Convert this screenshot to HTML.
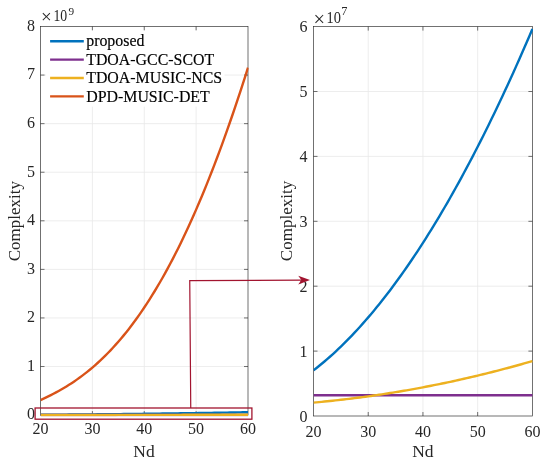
<!DOCTYPE html>
<html><head><meta charset="utf-8"><title>Complexity</title>
<style>html,body{margin:0;padding:0;background:#fff}svg{display:block}</style></head>
<body>
<svg width="550" height="467" viewBox="0 0 550 467" font-family="'Liberation Serif', serif" font-size="16" fill="#262626">
<rect width="550" height="467" fill="#fff"/>
<line x1="92.38" y1="26.5" x2="92.38" y2="415.1" stroke="#e9e9e9" stroke-width="0.8"/>
<line x1="144.25" y1="26.5" x2="144.25" y2="415.1" stroke="#e9e9e9" stroke-width="0.8"/>
<line x1="196.12" y1="26.5" x2="196.12" y2="415.1" stroke="#e9e9e9" stroke-width="0.8"/>
<line x1="40.5" y1="366.53" x2="248.0" y2="366.53" stroke="#e9e9e9" stroke-width="0.8"/>
<line x1="40.5" y1="317.95" x2="248.0" y2="317.95" stroke="#e9e9e9" stroke-width="0.8"/>
<line x1="40.5" y1="269.38" x2="248.0" y2="269.38" stroke="#e9e9e9" stroke-width="0.8"/>
<line x1="40.5" y1="220.80" x2="248.0" y2="220.80" stroke="#e9e9e9" stroke-width="0.8"/>
<line x1="40.5" y1="172.23" x2="248.0" y2="172.23" stroke="#e9e9e9" stroke-width="0.8"/>
<line x1="40.5" y1="123.65" x2="248.0" y2="123.65" stroke="#e9e9e9" stroke-width="0.8"/>
<line x1="40.5" y1="75.07" x2="248.0" y2="75.07" stroke="#e9e9e9" stroke-width="0.8"/>
<line x1="368.23" y1="26.6" x2="368.23" y2="416.0" stroke="#e9e9e9" stroke-width="0.8"/>
<line x1="422.95" y1="26.6" x2="422.95" y2="416.0" stroke="#e9e9e9" stroke-width="0.8"/>
<line x1="477.67" y1="26.6" x2="477.67" y2="416.0" stroke="#e9e9e9" stroke-width="0.8"/>
<line x1="313.5" y1="351.10" x2="532.4" y2="351.10" stroke="#e9e9e9" stroke-width="0.8"/>
<line x1="313.5" y1="286.20" x2="532.4" y2="286.20" stroke="#e9e9e9" stroke-width="0.8"/>
<line x1="313.5" y1="221.30" x2="532.4" y2="221.30" stroke="#e9e9e9" stroke-width="0.8"/>
<line x1="313.5" y1="156.40" x2="532.4" y2="156.40" stroke="#e9e9e9" stroke-width="0.8"/>
<line x1="313.5" y1="91.50" x2="532.4" y2="91.50" stroke="#e9e9e9" stroke-width="0.8"/>
<clipPath id="cl"><rect x="40.5" y="26.0" width="208.10" height="390.40"/></clipPath>
<clipPath id="cr"><rect x="313.5" y="26.1" width="219.50" height="391.20"/></clipPath>
<rect x="40.5" y="26.5" width="207.50" height="388.60" fill="none" stroke="#262626" stroke-width="0.65"/>
<line x1="92.38" y1="415.1" x2="92.38" y2="411.1" stroke="#262626" stroke-width="0.65"/>
<line x1="92.38" y1="26.5" x2="92.38" y2="30.5" stroke="#262626" stroke-width="0.65"/>
<line x1="144.25" y1="415.1" x2="144.25" y2="411.1" stroke="#262626" stroke-width="0.65"/>
<line x1="144.25" y1="26.5" x2="144.25" y2="30.5" stroke="#262626" stroke-width="0.65"/>
<line x1="196.12" y1="415.1" x2="196.12" y2="411.1" stroke="#262626" stroke-width="0.65"/>
<line x1="196.12" y1="26.5" x2="196.12" y2="30.5" stroke="#262626" stroke-width="0.65"/>
<line x1="40.5" y1="366.53" x2="44.5" y2="366.53" stroke="#262626" stroke-width="0.65"/>
<line x1="248.0" y1="366.53" x2="244.0" y2="366.53" stroke="#262626" stroke-width="0.65"/>
<line x1="40.5" y1="317.95" x2="44.5" y2="317.95" stroke="#262626" stroke-width="0.65"/>
<line x1="248.0" y1="317.95" x2="244.0" y2="317.95" stroke="#262626" stroke-width="0.65"/>
<line x1="40.5" y1="269.38" x2="44.5" y2="269.38" stroke="#262626" stroke-width="0.65"/>
<line x1="248.0" y1="269.38" x2="244.0" y2="269.38" stroke="#262626" stroke-width="0.65"/>
<line x1="40.5" y1="220.80" x2="44.5" y2="220.80" stroke="#262626" stroke-width="0.65"/>
<line x1="248.0" y1="220.80" x2="244.0" y2="220.80" stroke="#262626" stroke-width="0.65"/>
<line x1="40.5" y1="172.23" x2="44.5" y2="172.23" stroke="#262626" stroke-width="0.65"/>
<line x1="248.0" y1="172.23" x2="244.0" y2="172.23" stroke="#262626" stroke-width="0.65"/>
<line x1="40.5" y1="123.65" x2="44.5" y2="123.65" stroke="#262626" stroke-width="0.65"/>
<line x1="248.0" y1="123.65" x2="244.0" y2="123.65" stroke="#262626" stroke-width="0.65"/>
<line x1="40.5" y1="75.07" x2="44.5" y2="75.07" stroke="#262626" stroke-width="0.65"/>
<line x1="248.0" y1="75.07" x2="244.0" y2="75.07" stroke="#262626" stroke-width="0.65"/>
<rect x="313.5" y="26.6" width="218.90" height="389.40" fill="none" stroke="#262626" stroke-width="0.65"/>
<line x1="368.23" y1="416.0" x2="368.23" y2="412.0" stroke="#262626" stroke-width="0.65"/>
<line x1="368.23" y1="26.6" x2="368.23" y2="30.6" stroke="#262626" stroke-width="0.65"/>
<line x1="422.95" y1="416.0" x2="422.95" y2="412.0" stroke="#262626" stroke-width="0.65"/>
<line x1="422.95" y1="26.6" x2="422.95" y2="30.6" stroke="#262626" stroke-width="0.65"/>
<line x1="477.67" y1="416.0" x2="477.67" y2="412.0" stroke="#262626" stroke-width="0.65"/>
<line x1="477.67" y1="26.6" x2="477.67" y2="30.6" stroke="#262626" stroke-width="0.65"/>
<line x1="313.5" y1="351.10" x2="317.5" y2="351.10" stroke="#262626" stroke-width="0.65"/>
<line x1="532.4" y1="351.10" x2="528.4" y2="351.10" stroke="#262626" stroke-width="0.65"/>
<line x1="313.5" y1="286.20" x2="317.5" y2="286.20" stroke="#262626" stroke-width="0.65"/>
<line x1="532.4" y1="286.20" x2="528.4" y2="286.20" stroke="#262626" stroke-width="0.65"/>
<line x1="313.5" y1="221.30" x2="317.5" y2="221.30" stroke="#262626" stroke-width="0.65"/>
<line x1="532.4" y1="221.30" x2="528.4" y2="221.30" stroke="#262626" stroke-width="0.65"/>
<line x1="313.5" y1="156.40" x2="317.5" y2="156.40" stroke="#262626" stroke-width="0.65"/>
<line x1="532.4" y1="156.40" x2="528.4" y2="156.40" stroke="#262626" stroke-width="0.65"/>
<line x1="313.5" y1="91.50" x2="317.5" y2="91.50" stroke="#262626" stroke-width="0.65"/>
<line x1="532.4" y1="91.50" x2="528.4" y2="91.50" stroke="#262626" stroke-width="0.65"/>
<g fill="none" stroke-linejoin="round" stroke-width="2.4" clip-path="url(#cl)">
<path d="M40.50,414.76 L43.09,414.74 L45.69,414.73 L48.28,414.71 L50.88,414.69 L53.47,414.68 L56.06,414.66 L58.66,414.64 L61.25,414.62 L63.84,414.60 L66.44,414.58 L69.03,414.56 L71.62,414.54 L74.22,414.52 L76.81,414.50 L79.41,414.48 L82.00,414.46 L84.59,414.43 L87.19,414.41 L89.78,414.39 L92.38,414.36 L94.97,414.34 L97.56,414.31 L100.16,414.29 L102.75,414.26 L105.34,414.24 L107.94,414.21 L110.53,414.19 L113.12,414.16 L115.72,414.13 L118.31,414.10 L120.91,414.08 L123.50,414.05 L126.09,414.02 L128.69,413.99 L131.28,413.96 L133.88,413.93 L136.47,413.90 L139.06,413.87 L141.66,413.84 L144.25,413.80 L146.84,413.77 L149.44,413.74 L152.03,413.71 L154.62,413.67 L157.22,413.64 L159.81,413.61 L162.41,413.57 L165.00,413.54 L167.59,413.50 L170.19,413.47 L172.78,413.43 L175.38,413.39 L177.97,413.36 L180.56,413.32 L183.16,413.28 L185.75,413.24 L188.34,413.20 L190.94,413.16 L193.53,413.13 L196.12,413.09 L198.72,413.04 L201.31,413.00 L203.91,412.96 L206.50,412.92 L209.09,412.88 L211.69,412.84 L214.28,412.80 L216.88,412.75 L219.47,412.71 L222.06,412.66 L224.66,412.62 L227.25,412.58 L229.84,412.53 L232.44,412.49 L235.03,412.44 L237.62,412.39 L240.22,412.35 L242.81,412.30 L245.41,412.25 L248.00,412.20" stroke="#0072bd"/>
<path d="M40.50,414.95 L43.09,414.95 L45.69,414.95 L48.28,414.95 L50.88,414.95 L53.47,414.95 L56.06,414.95 L58.66,414.95 L61.25,414.95 L63.84,414.95 L66.44,414.95 L69.03,414.95 L71.62,414.95 L74.22,414.95 L76.81,414.95 L79.41,414.95 L82.00,414.95 L84.59,414.95 L87.19,414.95 L89.78,414.95 L92.38,414.95 L94.97,414.95 L97.56,414.95 L100.16,414.95 L102.75,414.95 L105.34,414.95 L107.94,414.95 L110.53,414.95 L113.12,414.95 L115.72,414.95 L118.31,414.95 L120.91,414.95 L123.50,414.95 L126.09,414.95 L128.69,414.95 L131.28,414.95 L133.88,414.95 L136.47,414.95 L139.06,414.95 L141.66,414.95 L144.25,414.95 L146.84,414.95 L149.44,414.95 L152.03,414.95 L154.62,414.95 L157.22,414.95 L159.81,414.95 L162.41,414.95 L165.00,414.95 L167.59,414.95 L170.19,414.95 L172.78,414.95 L175.38,414.95 L177.97,414.95 L180.56,414.95 L183.16,414.95 L185.75,414.95 L188.34,414.95 L190.94,414.95 L193.53,414.95 L196.12,414.95 L198.72,414.95 L201.31,414.95 L203.91,414.95 L206.50,414.95 L209.09,414.95 L211.69,414.95 L214.28,414.95 L216.88,414.95 L219.47,414.95 L222.06,414.95 L224.66,414.95 L227.25,414.95 L229.84,414.95 L232.44,414.95 L235.03,414.95 L237.62,414.95 L240.22,414.95 L242.81,414.95 L245.41,414.95 L248.00,414.95" stroke="#7e2f8e"/>
<path d="M40.50,415.00 L43.09,415.00 L45.69,415.00 L48.28,415.00 L50.88,414.99 L53.47,414.99 L56.06,414.99 L58.66,414.99 L61.25,414.98 L63.84,414.98 L66.44,414.98 L69.03,414.98 L71.62,414.98 L74.22,414.97 L76.81,414.97 L79.41,414.97 L82.00,414.97 L84.59,414.96 L87.19,414.96 L89.78,414.96 L92.38,414.95 L94.97,414.95 L97.56,414.95 L100.16,414.95 L102.75,414.94 L105.34,414.94 L107.94,414.94 L110.53,414.93 L113.12,414.93 L115.72,414.93 L118.31,414.92 L120.91,414.92 L123.50,414.92 L126.09,414.91 L128.69,414.91 L131.28,414.91 L133.88,414.90 L136.47,414.90 L139.06,414.89 L141.66,414.89 L144.25,414.89 L146.84,414.88 L149.44,414.88 L152.03,414.87 L154.62,414.87 L157.22,414.87 L159.81,414.86 L162.41,414.86 L165.00,414.85 L167.59,414.85 L170.19,414.85 L172.78,414.84 L175.38,414.84 L177.97,414.83 L180.56,414.83 L183.16,414.82 L185.75,414.82 L188.34,414.81 L190.94,414.81 L193.53,414.80 L196.12,414.80 L198.72,414.79 L201.31,414.79 L203.91,414.78 L206.50,414.78 L209.09,414.77 L211.69,414.77 L214.28,414.76 L216.88,414.76 L219.47,414.75 L222.06,414.75 L224.66,414.74 L227.25,414.74 L229.84,414.73 L232.44,414.73 L235.03,414.72 L237.62,414.71 L240.22,414.71 L242.81,414.70 L245.41,414.70 L248.00,414.69" stroke="#edb120"/>
<path d="M40.50,400.07 L43.09,398.89 L45.69,397.67 L48.28,396.42 L50.88,395.13 L53.47,393.79 L56.06,392.42 L58.66,391.00 L61.25,389.53 L63.84,388.01 L66.44,386.44 L69.03,384.82 L71.62,383.14 L74.22,381.41 L76.81,379.62 L79.41,377.77 L82.00,375.86 L84.59,373.88 L87.19,371.84 L89.78,369.73 L92.38,367.56 L94.97,365.32 L97.56,363.00 L100.16,360.61 L102.75,358.15 L105.34,355.61 L107.94,353.00 L110.53,350.30 L113.12,347.53 L115.72,344.68 L118.31,341.74 L120.91,338.72 L123.50,335.61 L126.09,332.42 L128.69,329.14 L131.28,325.77 L133.88,322.31 L136.47,318.75 L139.06,315.11 L141.66,311.37 L144.25,307.54 L146.84,303.61 L149.44,299.59 L152.03,295.47 L154.62,291.25 L157.22,286.93 L159.81,282.50 L162.41,277.98 L165.00,273.36 L167.59,268.63 L170.19,263.80 L172.78,258.86 L175.38,253.82 L177.97,248.67 L180.56,243.42 L183.16,238.06 L185.75,232.59 L188.34,227.01 L190.94,221.32 L193.53,215.52 L196.12,209.61 L198.72,203.59 L201.31,197.46 L203.91,191.21 L206.50,184.85 L209.09,178.38 L211.69,171.80 L214.28,165.10 L216.88,158.29 L219.47,151.37 L222.06,144.33 L224.66,137.17 L227.25,129.90 L229.84,122.52 L232.44,115.01 L235.03,107.40 L237.62,99.67 L240.22,91.82 L242.81,83.85 L245.41,75.77 L248.00,67.58" stroke="#d95319"/>
</g>
<g fill="none" stroke-linejoin="round" stroke-width="2.4" clip-path="url(#cr)">
<path d="M313.50,370.35 L316.24,368.22 L318.97,366.03 L321.71,363.79 L324.44,361.49 L327.18,359.14 L329.92,356.73 L332.65,354.27 L335.39,351.76 L338.13,349.19 L340.86,346.57 L343.60,343.90 L346.33,341.17 L349.07,338.39 L351.81,335.55 L354.54,332.66 L357.28,329.72 L360.02,326.72 L362.75,323.67 L365.49,320.56 L368.23,317.40 L370.96,314.18 L373.70,310.92 L376.43,307.59 L379.17,304.22 L381.91,300.79 L384.64,297.30 L387.38,293.77 L390.12,290.17 L392.85,286.53 L395.59,282.83 L398.32,279.07 L401.06,275.27 L403.80,271.40 L406.53,267.49 L409.27,263.52 L412.00,259.50 L414.74,255.42 L417.48,251.29 L420.21,247.10 L422.95,242.86 L425.69,238.57 L428.42,234.22 L431.16,229.82 L433.89,225.36 L436.63,220.86 L439.37,216.29 L442.10,211.68 L444.84,207.00 L447.58,202.28 L450.31,197.50 L453.05,192.67 L455.78,187.78 L458.52,182.84 L461.26,177.84 L463.99,172.80 L466.73,167.69 L469.47,162.54 L472.20,157.33 L474.94,152.06 L477.67,146.74 L480.41,141.37 L483.15,135.94 L485.88,130.46 L488.62,124.93 L491.36,119.34 L494.09,113.70 L496.83,108.00 L499.56,102.25 L502.30,96.45 L505.04,90.59 L507.77,84.68 L510.51,78.71 L513.25,72.69 L515.98,66.62 L518.72,60.49 L521.45,54.31 L524.19,48.07 L526.93,41.79 L529.66,35.44 L532.40,29.04" stroke="#0072bd"/>
<path d="M313.50,395.30 L316.24,395.30 L318.97,395.30 L321.71,395.30 L324.44,395.30 L327.18,395.30 L329.92,395.30 L332.65,395.30 L335.39,395.30 L338.13,395.30 L340.86,395.30 L343.60,395.30 L346.33,395.30 L349.07,395.30 L351.81,395.30 L354.54,395.30 L357.28,395.30 L360.02,395.30 L362.75,395.30 L365.49,395.30 L368.23,395.30 L370.96,395.30 L373.70,395.30 L376.43,395.30 L379.17,395.30 L381.91,395.30 L384.64,395.30 L387.38,395.30 L390.12,395.30 L392.85,395.30 L395.59,395.30 L398.32,395.30 L401.06,395.30 L403.80,395.30 L406.53,395.30 L409.27,395.30 L412.00,395.30 L414.74,395.30 L417.48,395.30 L420.21,395.30 L422.95,395.30 L425.69,395.30 L428.42,395.30 L431.16,395.30 L433.89,395.30 L436.63,395.30 L439.37,395.30 L442.10,395.30 L444.84,395.30 L447.58,395.30 L450.31,395.30 L453.05,395.30 L455.78,395.30 L458.52,395.30 L461.26,395.30 L463.99,395.30 L466.73,395.30 L469.47,395.30 L472.20,395.30 L474.94,395.30 L477.67,395.30 L480.41,395.30 L483.15,395.30 L485.88,395.30 L488.62,395.30 L491.36,395.30 L494.09,395.30 L496.83,395.30 L499.56,395.30 L502.30,395.30 L505.04,395.30 L507.77,395.30 L510.51,395.30 L513.25,395.30 L515.98,395.30 L518.72,395.30 L521.45,395.30 L524.19,395.30 L526.93,395.30 L529.66,395.30 L532.40,395.30" stroke="#7e2f8e"/>
<path d="M313.50,402.60 L316.24,402.35 L318.97,402.10 L321.71,401.83 L324.44,401.56 L327.18,401.29 L329.92,401.01 L332.65,400.72 L335.39,400.42 L338.13,400.12 L340.86,399.81 L343.60,399.49 L346.33,399.16 L349.07,398.83 L351.81,398.50 L354.54,398.15 L357.28,397.80 L360.02,397.44 L362.75,397.08 L365.49,396.71 L368.23,396.33 L370.96,395.94 L373.70,395.55 L376.43,395.15 L379.17,394.75 L381.91,394.33 L384.64,393.91 L387.38,393.49 L390.12,393.05 L392.85,392.61 L395.59,392.17 L398.32,391.71 L401.06,391.25 L403.80,390.79 L406.53,390.31 L409.27,389.83 L412.00,389.34 L414.74,388.85 L417.48,388.35 L420.21,387.84 L422.95,387.32 L425.69,386.80 L428.42,386.27 L431.16,385.74 L433.89,385.19 L436.63,384.65 L439.37,384.09 L442.10,383.53 L444.84,382.96 L447.58,382.38 L450.31,381.80 L453.05,381.21 L455.78,380.61 L458.52,380.01 L461.26,379.39 L463.99,378.78 L466.73,378.15 L469.47,377.52 L472.20,376.88 L474.94,376.24 L477.67,375.59 L480.41,374.93 L483.15,374.26 L485.88,373.59 L488.62,372.91 L491.36,372.23 L494.09,371.53 L496.83,370.83 L499.56,370.13 L502.30,369.41 L505.04,368.69 L507.77,367.97 L510.51,367.23 L513.25,366.49 L515.98,365.75 L518.72,364.99 L521.45,364.23 L524.19,363.46 L526.93,362.69 L529.66,361.91 L532.40,361.12" stroke="#edb120"/>
</g>
<g font-size="16">
<text x="40.50" y="434.40" text-anchor="middle">20</text>
<text x="92.38" y="434.40" text-anchor="middle">30</text>
<text x="144.25" y="434.40" text-anchor="middle">40</text>
<text x="196.12" y="434.40" text-anchor="middle">50</text>
<text x="248.00" y="434.40" text-anchor="middle">60</text>
<text x="35.00" y="419.40" text-anchor="end">0</text>
<text x="35.00" y="370.83" text-anchor="end">1</text>
<text x="35.00" y="322.25" text-anchor="end">2</text>
<text x="35.00" y="273.68" text-anchor="end">3</text>
<text x="35.00" y="225.10" text-anchor="end">4</text>
<text x="35.00" y="176.53" text-anchor="end">5</text>
<text x="35.00" y="127.95" text-anchor="end">6</text>
<text x="35.00" y="79.37" text-anchor="end">7</text>
<text x="35.00" y="30.80" text-anchor="end">8</text>
</g>
<text x="41.0" y="23.1" font-size="19">×</text><text transform="translate(53.4,20.8) scale(0.87,1)" font-size="15.8">10</text><text x="68.5" y="15.2" font-size="11.2">9</text>
<text x="144.00" y="456.8" text-anchor="middle" font-size="17.5">Nd</text>
<text transform="translate(19.70,221.20) rotate(-90)" text-anchor="middle" font-size="17">Complexity</text>
<g font-size="16">
<text x="313.50" y="436.65" text-anchor="middle">20</text>
<text x="368.23" y="436.65" text-anchor="middle">30</text>
<text x="422.95" y="436.65" text-anchor="middle">40</text>
<text x="477.67" y="436.65" text-anchor="middle">50</text>
<text x="532.40" y="436.65" text-anchor="middle">60</text>
<text x="307.60" y="421.75" text-anchor="end">0</text>
<text x="307.60" y="356.85" text-anchor="end">1</text>
<text x="307.60" y="291.95" text-anchor="end">2</text>
<text x="307.60" y="227.05" text-anchor="end">3</text>
<text x="307.60" y="162.15" text-anchor="end">4</text>
<text x="307.60" y="97.25" text-anchor="end">5</text>
<text x="307.60" y="32.35" text-anchor="end">6</text>
</g>
<text x="313.5" y="25.7" font-size="20.5">×</text><text transform="translate(326.6,23.1) scale(0.9,1)" font-size="16">10</text><text x="341.3" y="15.2" font-size="12.3">7</text>
<text x="422.90" y="456.8" text-anchor="middle" font-size="17.5">Nd</text>
<text transform="translate(292.10,221.00) rotate(-90)" text-anchor="middle" font-size="17">Complexity</text>
<rect x="46" y="30.6" width="178.5" height="76" fill="#fff"/>
<line x1="50.1" y1="41.2" x2="83.8" y2="41.2" stroke="#0072bd" stroke-width="2.4"/>
<text x="86.2" y="46.40" font-size="15.9" fill="#000" stroke="#000" stroke-width="0.15">proposed</text>
<line x1="50.1" y1="59.6" x2="83.8" y2="59.6" stroke="#7e2f8e" stroke-width="2.4"/>
<text x="86.2" y="64.80" font-size="15.9" fill="#000" stroke="#000" stroke-width="0.15">TDOA-GCC-SCOT</text>
<line x1="50.1" y1="78.0" x2="83.8" y2="78.0" stroke="#edb120" stroke-width="2.4"/>
<text x="86.2" y="83.20" font-size="15.9" fill="#000" stroke="#000" stroke-width="0.15">TDOA-MUSIC-NCS</text>
<line x1="50.1" y1="96.4" x2="83.8" y2="96.4" stroke="#d95319" stroke-width="2.4"/>
<text x="86.2" y="101.60" font-size="15.9" fill="#000" stroke="#000" stroke-width="0.15">DPD-MUSIC-DET</text>
<rect x="35.1" y="408.0" width="216.8" height="11.2" fill="none" stroke="#a2142f" stroke-width="1.3"/>
<path d="M190.75,407.9 L189.75,280.65 L302,280.05" fill="none" stroke="#a2142f" stroke-width="1.2"/>
<path d="M310,280.0 L298.2,275.8 L301.4,280.05 L298.2,284.4 Z" fill="#a2142f"/>
</svg>
</body></html>
